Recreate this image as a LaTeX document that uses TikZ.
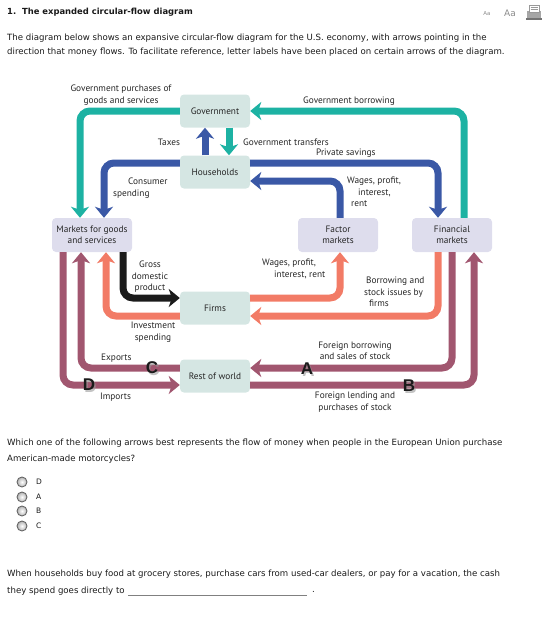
\documentclass[tikz,border=0pt]{standalone}
\usepackage{fontspec}
\setmainfont{DejaVu Sans}
\newfontfamily\diagfont{PT Sans}
\newfontfamily\letterfont{Liberation Sans}
\usetikzlibrary{arrows.meta}
\definecolor{tealx}{HTML}{1DB2A3}
\definecolor{bluex}{HTML}{3A58A6}
\definecolor{salmx}{HTML}{F27B66}
\definecolor{plumx}{HTML}{A1566F}
\definecolor{inkx}{HTML}{1B1B1B}
\definecolor{sectfill}{HTML}{D5E6E3}
\definecolor{mktfill}{HTML}{DEDDED}
\tikzset{
    flow/.style={draw=#1,line width=7pt,rounded corners=10pt,
        -{Stealth[length=11pt,width=18pt,inset=3pt]}},
    sector/.style={fill=sectfill,rounded corners=4pt,minimum width=70pt,minimum height=33pt,
        inner sep=1pt,align=center,font=\diagfont\fontsize{9.3}{11}\selectfont,text=black!85},
    market/.style={sector,fill=mktfill,minimum width=80pt,minimum height=34pt},
    lbl/.style={inner sep=0pt,align=center,font=\diagfont\fontsize{9.3}{11.5}\selectfont,text=black!85},
    letr/.style={inner sep=0pt,font=\letterfont\bfseries\fontsize{17}{17}\selectfont},
    body/.style={anchor=west,inner sep=0pt,font=\fontsize{8.6}{10}\selectfont,text=black!90},
    radio/.style={circle,draw=black!60,line width=0.9pt,inner color=white,outer color=black!30,
        minimum size=10pt,inner sep=0pt}
}

\begin{document}
\begin{tikzpicture}[x=1pt,y=-1pt]
    \useasboundingbox (0,0) rectangle (549,641);

    \node [body,font=\bfseries\fontsize{8.4}{10}\selectfont] (title) at (7,12) {1.\ \ The expanded circular-flow diagram};
    \node [inner sep=0pt,text=black!45,font=\fontsize{5.5}{6}\selectfont] (small) at (487,14) {Aa};
    \node [inner sep=0pt,text=black!45,font=\fontsize{9}{10}\selectfont] (large) at (510,13) {Aa};
    \fill [black!35] (527,11) rectangle (541,18);
    \fill [white] (529,5) rectangle (539,12);
    \draw [black!40,line width=0.6pt] (529,5) rectangle (539,12);
    \draw [black!40,line width=0.5pt] (530.5,7.5) -- (537.5,7.5) (530.5,9.5) -- (537.5,9.5);
    \fill [black!55] (526,18) rectangle (542,20);

    \node [body] (intro1) at (7,38) {The diagram below shows an expansive circular-flow diagram for the U.S. economy, with arrows pointing in the};
    \node [body] (intro2) at (7,52) {direction that money flows. To facilitate reference, letter labels have been placed on certain arrows of the diagram.};

    \node [sector] (gov) at (215,111) {Government};
    \node [sector] (hh) at (215,172) {Households};
    \node [sector] (firms) at (215,308) {Firms};
    \node [sector] (row) at (215,376) {Rest of world};
    \node [market] (mkt) at (92,235) {Markets for goods\\and services};
    \node [market] (fac) at (338,235) {Factor\\markets};
    \node [market] (fin) at (452,235) {Financial\\markets};

    \draw [flow=tealx] (gov.west) -| ([xshift=-12pt]mkt.north);
    \draw [flow=tealx] ([xshift=12pt]fin.north) |- (gov.east);
    \draw [flow=tealx] ([xshift=14pt]gov.south) -- ([xshift=14pt]hh.north);
    \draw [flow=bluex] ([xshift=-10pt]hh.north) -- ([xshift=-10pt]gov.south);
    \draw [flow=bluex] ([yshift=9pt]hh.west) -| ([xshift=12pt]mkt.north);
    \draw [flow=bluex] ([yshift=9pt]hh.east) -| ([xshift=-14pt]fin.north);
    \draw [flow=bluex] ([xshift=2pt]fac.north) |- ([yshift=-9pt]hh.east);
    \draw [flow=inkx] ([xshift=31pt]mkt.south) |- ([yshift=10pt]firms.west);
    \draw [flow=salmx] ([yshift=-8pt]firms.west) -| ([xshift=14pt]mkt.south);
    \draw [flow=salmx] ([yshift=10pt]firms.east) -| ([xshift=2pt]fac.south);
    \draw [flow=salmx] ([xshift=-14pt]fin.south) |- ([yshift=-8pt]firms.east);
    \draw [flow=plumx] ([yshift=8pt]row.west) -| ([xshift=-11pt]mkt.south);
    \draw [flow=plumx] ([xshift=-29pt]mkt.south) |- ([yshift=-9pt]row.west);
    \draw [flow=plumx] (fin.south) |- ([yshift=8pt]row.east);
    \draw [flow=plumx] ([yshift=-9pt]row.east) -| ([xshift=22pt]fin.south);

    \node [lbl] (purch) at (121,95) {Government purchases of\\goods and services};
    \node [lbl] (borrow) at (349,101) {Government borrowing};
    \node [lbl] (taxes) at (169,142) {Taxes};
    \node [lbl,anchor=west] (transf) at (243,142) {Government transfers};
    \node [lbl,anchor=west] (saving) at (316,153) {Private savings};
    \node [lbl,anchor=north west,align=left] (consum) at (113,178) {\hspace*{15pt}Consumer\\spending};
    \node [lbl,anchor=north west,align=left] (wageh) at (347,177) {Wages, profit,\\\hspace*{11pt}interest,\\\hspace*{4pt}rent};
    \node [lbl] (gdp) at (150,277) {Gross\\domestic\\product};
    \node [lbl,anchor=north west,align=left] (wagef) at (262,259) {Wages, profit,\\\hspace*{12pt}interest, rent};
    \node [lbl,anchor=north west,align=left] (issues) at (364,277) {\hspace*{2pt}Borrowing and\\stock issues by\\\hspace*{5pt}firms};
    \node [lbl] (invest) at (153,332) {Investment\\spending};
    \node [lbl,anchor=west] (exports) at (101,358) {Exports};
    \node [lbl,anchor=west] (imports) at (100,397) {Imports};
    \node [lbl] (forb) at (355,351) {Foreign borrowing\\and sales of stock};
    \node [lbl] (forl) at (355,402) {Foreign lending and\\purchases of stock};

    \foreach \l/\x/\y in {D/89/385,C/152/368,A/307/369,B/409/386} {
        \node [letr,text=black!40,opacity=0.6] (shade\l) at (\x+1.5,\y+1.5) {\l};
        \node [letr,text=inkx] (let\l) at (\x,\y) {\l};
    }

    \node [body] (quest1) at (7,443) {Which one of the following arrows best represents the flow of money when people in the European Union purchase};
    \node [body] (quest2) at (7,459) {American-made motorcycles?};
    \foreach \l/\y in {D/482,A/497,B/511,C/526} {
        \node [radio] (radio\l) at (22,\y) {};
        \node [body,font=\fontsize{7.5}{8}\selectfont] (opt\l) at (36,\y) {\l};
    }

    \node [body] (fill1) at (7,574) {When households buy food at grocery stores, purchase cars from used-car dealers, or pay for a vacation, the cash};
    \node [body] (fill2) at (7,591) {they spend goes directly to};
    \draw [black!50,line width=0.7pt] (128,595) -- (307,595);
    \node [body] (stop) at (312,592) {.};
\end{tikzpicture}
\end{document}
